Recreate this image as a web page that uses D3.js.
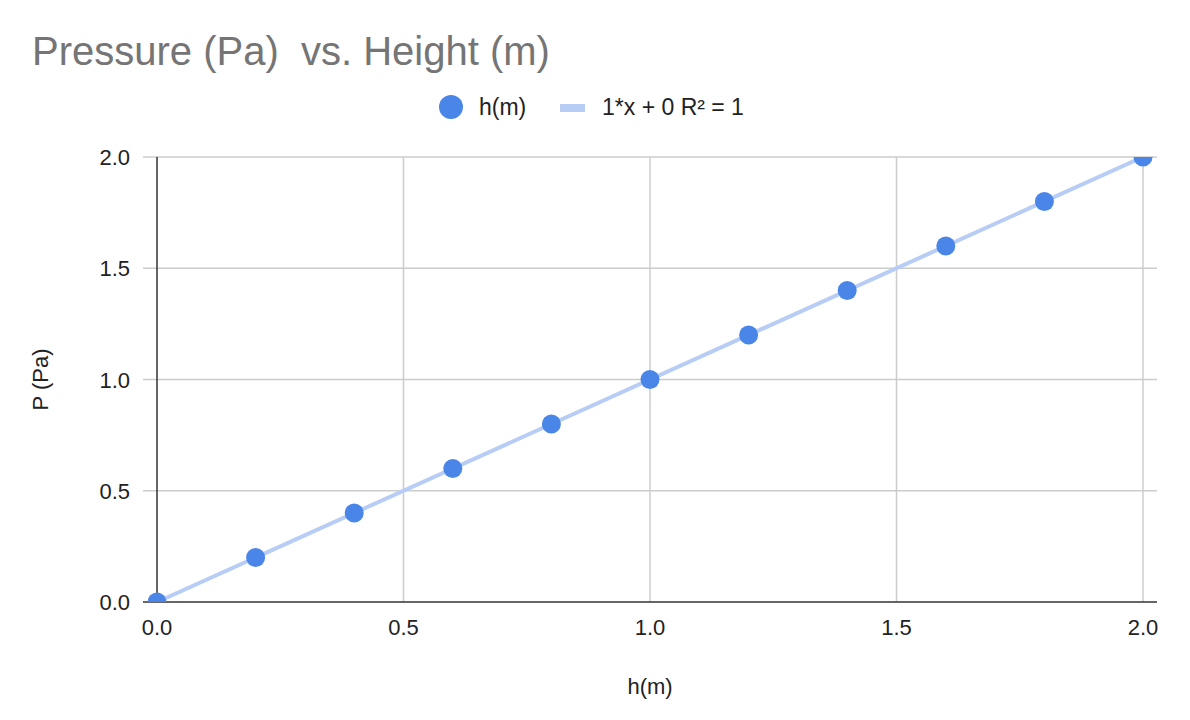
<!DOCTYPE html>
<html>
<head>
<meta charset="utf-8">
<script src="https://cdn.jsdelivr.net/npm/d3@7"></script>
<style>
  body { margin: 0; background: #fff; }
  text { font-family: "Liberation Sans", Arial, Helvetica, sans-serif; white-space: pre; }
</style>
</head>
<body>
<script>
const heights = [0, 0.2, 0.4, 0.6, 0.8, 1.0, 1.2, 1.4, 1.6, 1.8, 2.0]
const pressures = [0, 0.2, 0.4, 0.6, 0.8, 1.0, 1.2, 1.4, 1.6, 1.8, 2.0]
const xTicks = [0, 0.5, 1.0, 1.5, 2.0]
const yTicks = [0, 0.5, 1.0, 1.5, 2.0]
const trend = { slope: 1, intercept: 0 }

const m = { width: 1190, height: 720 }
const plot = { left: 157, right: 1143, top: 157, bottom: 602 }

const svg = d3.select('body').append('svg')
    .attr('width', m.width)
    .attr('height', m.height)

const x = d3.scaleLinear().domain([0, 2]).range([plot.left, plot.right])
const y = d3.scaleLinear().domain([0, 2]).range([plot.bottom, plot.top])

// title
svg.append('text')
    .attr('x', 32)
    .attr('y', 65)
    .attr('fill', '#757575')
    .attr('font-size', 40)
    .attr('xml:space', 'preserve')
    .text('Pressure (Pa)  vs. Height (m)')

// legend
const legend = svg.append('g')
legend.append('circle')
    .attr('cx', 451).attr('cy', 107).attr('r', 12)
    .attr('fill', '#4a86e8')
legend.append('text')
    .attr('x', 479).attr('y', 115)
    .attr('font-size', 23).attr('fill', '#222')
    .text('h(m)')
legend.append('rect')
    .attr('x', 560).attr('y', 104).attr('width', 25).attr('height', 8)
    .attr('fill', '#b7cdf5')
legend.append('text')
    .attr('x', 602).attr('y', 115)
    .attr('font-size', 23).attr('fill', '#222')
    .text('1*x + 0 R² = 1')

// grid
const grid = svg.append('g')
grid.selectAll('.hgrid')
    .data(yTicks.filter(d => d !== 0))
    .enter()
    .append('line')
        .attr('x1', 143).attr('x2', 1157)
        .attr('y1', d => y(d)).attr('y2', d => y(d))
        .attr('stroke', '#cccccc').attr('stroke-width', 1.5)
grid.selectAll('.vgrid')
    .data(xTicks.filter(d => d !== 0))
    .enter()
    .append('line')
        .attr('x1', d => x(d)).attr('x2', d => x(d))
        .attr('y1', plot.top).attr('y2', plot.bottom)
        .attr('stroke', '#cccccc').attr('stroke-width', 1.5)

// axis lines
svg.append('line')
    .attr('x1', x(0)).attr('x2', x(0))
    .attr('y1', plot.top).attr('y2', plot.bottom)
    .attr('stroke', '#333').attr('stroke-width', 1.5)
svg.append('line')
    .attr('x1', 143).attr('x2', 1157)
    .attr('y1', y(0)).attr('y2', y(0))
    .attr('stroke', '#333').attr('stroke-width', 1.5)

// tick labels
svg.selectAll('.ylab')
    .data(yTicks)
    .enter()
    .append('text')
        .attr('x', 130)
        .attr('y', d => y(d) + 8)
        .attr('text-anchor', 'end')
        .attr('font-size', 22).attr('fill', '#222')
        .text(d => d3.format('.1f')(d))
svg.selectAll('.xlab')
    .data(xTicks)
    .enter()
    .append('text')
        .attr('x', d => x(d))
        .attr('y', 635)
        .attr('text-anchor', 'middle')
        .attr('font-size', 22).attr('fill', '#222')
        .text(d => d3.format('.1f')(d))

// axis titles
svg.append('text')
    .attr('x', x(1)).attr('y', 694)
    .attr('text-anchor', 'middle')
    .attr('font-size', 22).attr('fill', '#222')
    .text('h(m)')
svg.append('text')
    .attr('transform', 'translate(48,' + ((plot.top + plot.bottom) / 2) + ') rotate(-90)')
    .attr('text-anchor', 'middle')
    .attr('font-size', 22).attr('fill', '#222')
    .text('P (Pa)')

// clip so markers at the edge are cut like the original
svg.append('clipPath').attr('id', 'clip')
    .append('rect')
    .attr('x', plot.left - 20).attr('y', plot.top)
    .attr('width', plot.right - plot.left + 40)
    .attr('height', plot.bottom - plot.top)

const marks = svg.append('g').attr('clip-path', 'url(#clip)')

// trendline
const xExt = d3.extent(heights)
marks.append('line')
    .attr('x1', x(xExt[0])).attr('y1', y(trend.slope * xExt[0] + trend.intercept))
    .attr('x2', x(xExt[1])).attr('y2', y(trend.slope * xExt[1] + trend.intercept))
    .attr('stroke', '#b7cdf5').attr('stroke-width', 4)

// points
marks.selectAll('.pt')
    .data(heights)
    .enter()
    .append('circle')
        .attr('cx', (d, i) => x(d))
        .attr('cy', (d, i) => y(pressures[i]))
        .attr('r', 9.5)
        .attr('fill', '#4a86e8')
</script>
</body>
</html>
